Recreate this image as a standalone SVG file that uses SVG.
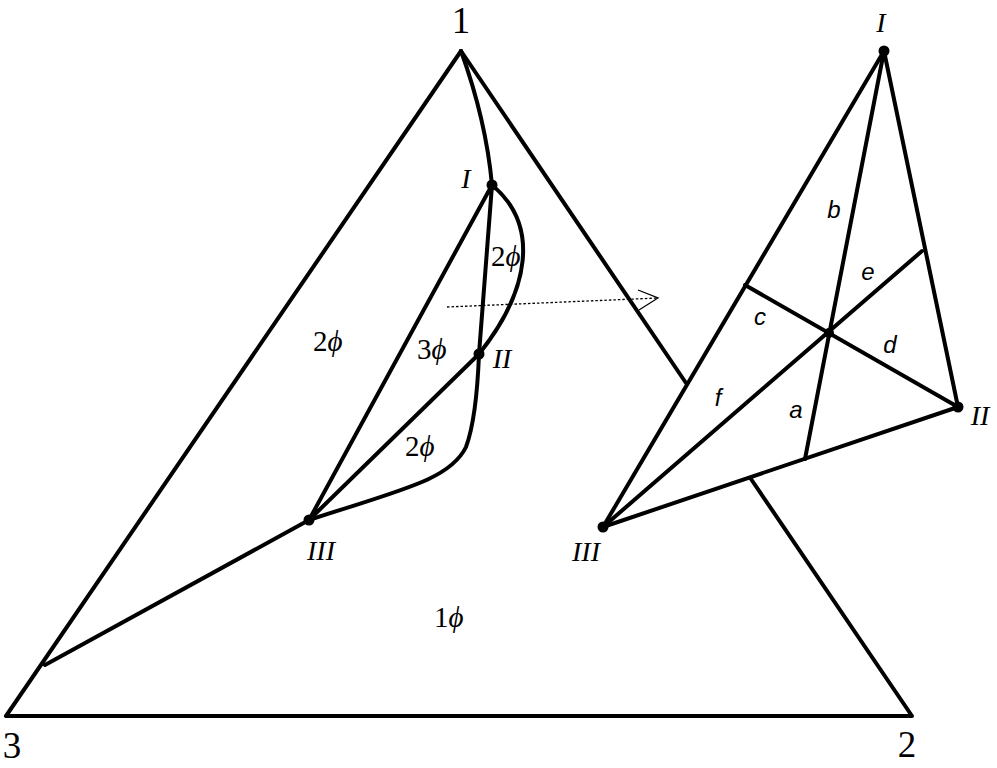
<svg xmlns="http://www.w3.org/2000/svg" width="997" height="768" viewBox="0 0 997 768">
<style>
.ln{fill:none;stroke:#000;stroke-width:4;stroke-linecap:round;stroke-linejoin:round}
.dot{fill:#000}
.num{font-family:"Liberation Serif","Times New Roman",serif;font-size:37px;fill:#000}
.rom{font-family:"Liberation Serif","Times New Roman",serif;font-style:italic;font-size:28px;fill:#000}
.ph{font-family:"Liberation Serif","Times New Roman",serif;font-size:29px;fill:#000}
.ph tspan{font-style:italic}
.lt{font-family:"Liberation Sans",Arial,sans-serif;font-style:italic;font-size:24px;fill:#000}
</style>
<rect width="997" height="768" fill="#fff"/>
<g id="connectors">
  <path class="ln" d="M461,51 L6,716 L912,716 L751,479"/>
  <path class="ln" d="M461,51 L686,383"/>
  <path class="ln" d="M461,51 Q486,120 492,185"/>
  <path class="ln" d="M492,185 L479,354 L309,520 L492,185"/>
  <path class="ln" d="M492,185 C540,225 530,290 479,354"/>
  <path class="ln" d="M479,354 C478,380 476,420 466,447 C450,480 400,490 309,520"/>
  <path class="ln" d="M309,520 L45,665"/>
  <path d="M447,307 L658,298" fill="none" stroke="#000" stroke-width="1.3" stroke-dasharray="2.5,2"/>
  <path d="M638,290 L658,298 L639,310" fill="none" stroke="#000" stroke-width="1.3"/>
  <path class="ln" d="M884,51 L958,407 L603,527 Z" fill="#fff"/>
  <path class="ln" d="M884,51 L805,459"/>
  <path class="ln" d="M603,527 L922,251"/>
  <path class="ln" d="M958,407 L745,285"/>
</g>
<g id="vertex-1"><text class="num" x="461" y="33" text-anchor="middle">1</text></g>
<g id="vertex-2"><text class="num" x="907" y="757" text-anchor="middle">2</text></g>
<g id="vertex-3"><text class="num" x="12" y="758" text-anchor="middle">3</text></g>
<g id="point-I"><circle class="dot" cx="492" cy="185" r="5.5"/><text class="rom" x="466" y="188" text-anchor="middle">I</text></g>
<g id="point-II"><circle class="dot" cx="479" cy="354" r="5.5"/><text class="rom" x="502" y="368" text-anchor="middle">II</text></g>
<g id="point-III"><circle class="dot" cx="309" cy="520" r="5.5"/><text class="rom" x="321" y="560" text-anchor="middle">III</text></g>
<g id="region-labels">
  <text class="ph" x="313" y="351">2<tspan>ϕ</tspan></text>
  <text class="ph" x="491" y="266">2<tspan>ϕ</tspan></text>
  <text class="ph" x="417" y="359">3<tspan>ϕ</tspan></text>
  <text class="ph" x="405" y="456">2<tspan>ϕ</tspan></text>
  <text class="ph" x="434" y="627">1<tspan>ϕ</tspan></text>
</g>
<g id="zoom-I"><circle class="dot" cx="884" cy="51" r="5.5"/><text class="rom" x="881" y="32" text-anchor="middle">I</text></g>
<g id="zoom-II"><circle class="dot" cx="958" cy="407" r="5.5"/><text class="rom" x="980" y="425" text-anchor="middle">II</text></g>
<g id="zoom-III"><circle class="dot" cx="603" cy="527" r="5.5"/><text class="rom" x="586" y="561" text-anchor="middle">III</text></g>
<g id="zoom-center"><circle class="dot" cx="829" cy="333" r="5"/></g>
<g id="zoom-labels">
  <text class="lt" x="834" y="218" text-anchor="middle">b</text>
  <text class="lt" x="868" y="280" text-anchor="middle">e</text>
  <text class="lt" x="760" y="325" text-anchor="middle">c</text>
  <text class="lt" x="890" y="353" text-anchor="middle">d</text>
  <text class="lt" x="718" y="406" text-anchor="middle">f</text>
  <text class="lt" x="796" y="418" text-anchor="middle">a</text>
</g>
</svg>
